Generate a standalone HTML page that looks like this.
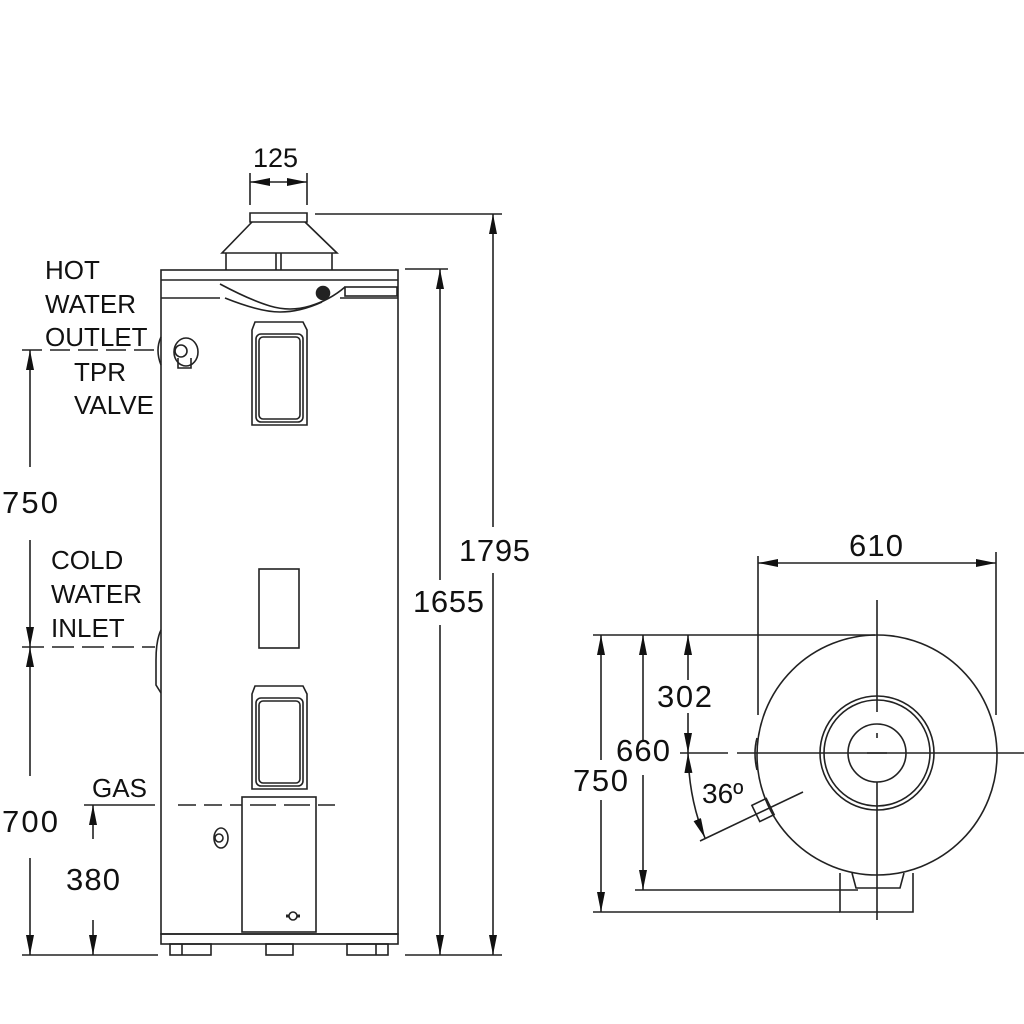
<!DOCTYPE html>
<html><head><meta charset="utf-8"><style>
html,body{margin:0;padding:0;background:#fff}
svg{display:block}
text{font-family:"Liberation Sans",Arial,sans-serif;fill:#111}
</style></head><body>
<svg width="1024" height="1024" viewBox="0 0 1024 1024" xmlns="http://www.w3.org/2000/svg">
<defs>
<marker id="a" viewBox="0 0 20 8" refX="20" refY="4" markerWidth="20" markerHeight="8" markerUnits="userSpaceOnUse" orient="auto-start-reverse">
<path d="M0,0 L20,4 L0,8 Z" fill="#111"/></marker>
</defs>
<g stroke="#222" stroke-width="1.6" fill="none">
<path d="M250,213 L307,213 L307,222 L250,222 Z"/>
<path d="M252,222 L222,253 L337,253 L305,222"/>
<line x1="226" y1="253" x2="226" y2="270"/><line x1="332" y1="253" x2="332" y2="270"/>
<line x1="276" y1="253" x2="276" y2="270"/><line x1="281" y1="253" x2="281" y2="270"/>
<rect x="161" y="270" width="237" height="664"/>
<line x1="161" y1="280" x2="398" y2="280"/>
<line x1="161" y1="298" x2="220" y2="298"/>
<path d="M220,284 Q250,300 270,306 Q290,312 310,306 Q330,300 345,287"/>
<path d="M225,298 Q260,312 280,312 Q300,312 322,302"/>
<line x1="340" y1="298" x2="398" y2="298"/>
<rect x="345" y="287" width="52" height="9"/>
<circle cx="323" cy="293" r="6.5" fill="#222"/>
<path d="M255,322 L303,322 L307,330 L307,425 L252,425 L252,330 Z"/>
<rect x="256" y="334" width="47" height="88" rx="5"/>
<rect x="259" y="337" width="41" height="82" rx="4"/>
<path d="M255,686 L303,686 L307,694 L307,789 L252,789 L252,694 Z"/>
<rect x="256" y="698" width="47" height="88" rx="5"/>
<rect x="259" y="701" width="41" height="82" rx="4"/>
<rect x="259" y="569" width="40" height="79"/>
<ellipse cx="186" cy="352" rx="12" ry="14"/>
<circle cx="181" cy="351" r="6"/>
<path d="M178,358 L178,368 L191,368 L191,358"/>
<path d="M161,337 Q155,350 161,365"/>
<path d="M161,630 Q156,640 156,660 L156,685 L161,693"/>
<rect x="242" y="797" width="74" height="135"/>
<line x1="84" y1="805" x2="155" y2="805"/>
<line x1="178" y1="805" x2="242" y2="805" stroke-dasharray="18,8"/>
<line x1="250" y1="805" x2="335" y2="805" stroke-dasharray="26,8"/>
<ellipse cx="221" cy="838" rx="7" ry="10"/><circle cx="219" cy="838" r="4"/>
<circle cx="293" cy="916" r="4"/><line x1="286" y1="916" x2="289" y2="916" stroke-width="3"/><line x1="297" y1="916" x2="300" y2="916" stroke-width="3"/>
<rect x="161" y="934" width="237" height="10"/>
<rect x="170" y="944" width="41" height="11"/><line x1="182" y1="944" x2="182" y2="955"/>
<rect x="266" y="944" width="27" height="11"/>
<rect x="347" y="944" width="41" height="11"/><line x1="376" y1="944" x2="376" y2="955"/>
<line x1="22" y1="350" x2="155" y2="350" stroke-dasharray="20,8"/>
<line x1="22" y1="647" x2="155" y2="647" stroke-dasharray="22,8"/>
<line x1="22" y1="955" x2="158" y2="955"/>
<line x1="30" y1="350" x2="30" y2="467" marker-start="url(#a)"/>
<line x1="30" y1="540" x2="30" y2="647" marker-end="url(#a)"/>
<line x1="30" y1="647" x2="30" y2="776" marker-start="url(#a)"/>
<line x1="30" y1="858" x2="30" y2="955" marker-end="url(#a)"/>
<line x1="93" y1="805" x2="93" y2="839" marker-start="url(#a)"/>
<line x1="93" y1="920" x2="93" y2="955" marker-end="url(#a)"/>
<line x1="250" y1="173" x2="250" y2="205"/><line x1="307" y1="173" x2="307" y2="205"/>
<line x1="250" y1="182" x2="307" y2="182" marker-start="url(#a)" marker-end="url(#a)"/>
<line x1="315" y1="214" x2="502" y2="214"/>
<line x1="405" y1="269" x2="448" y2="269"/>
<line x1="493" y1="214" x2="493" y2="527" marker-start="url(#a)"/>
<line x1="493" y1="573" x2="493" y2="955" marker-end="url(#a)"/>
<line x1="440" y1="269" x2="440" y2="580" marker-start="url(#a)"/>
<line x1="440" y1="625" x2="440" y2="955" marker-end="url(#a)"/>
<line x1="405" y1="955" x2="502" y2="955"/>
<circle cx="877" cy="755" r="120"/>
<circle cx="877" cy="753" r="57"/><circle cx="877" cy="753" r="53"/>
<circle cx="877" cy="753" r="29"/>
<line x1="877" y1="600" x2="877" y2="712"/>
<line x1="877" y1="733" x2="877" y2="773" stroke-dasharray="5,40"/>
<line x1="867" y1="753" x2="887" y2="753"/>
<line x1="877" y1="782" x2="877" y2="920"/>
<line x1="680" y1="753" x2="728" y2="753"/>
<line x1="737" y1="753" x2="1024" y2="753"/>
<path d="M757,738 Q753,753 757,770"/>
<line x1="758" y1="556" x2="758" y2="715"/><line x1="996" y1="552" x2="996" y2="715"/>
<line x1="758" y1="563" x2="996" y2="563" marker-start="url(#a)" marker-end="url(#a)"/>
<line x1="593" y1="635" x2="750" y2="635"/><line x1="750" y1="635" x2="875" y2="635"/>
<line x1="635" y1="890" x2="858" y2="890"/>
<line x1="593" y1="912" x2="840" y2="912"/>
<path d="M840,873 L840,912 L913,912 L913,873"/>
<path d="M852,873 L856,888 L900,888 L904,873"/>
<line x1="601" y1="635" x2="601" y2="760" marker-start="url(#a)"/>
<line x1="601" y1="800" x2="601" y2="912" marker-end="url(#a)"/>
<line x1="643" y1="635" x2="643" y2="740" marker-start="url(#a)"/>
<line x1="643" y1="775" x2="643" y2="890" marker-end="url(#a)"/>
<line x1="688" y1="635" x2="688" y2="680" marker-start="url(#a)"/>
<line x1="688" y1="713" x2="688" y2="753" marker-end="url(#a)"/>
<path d="M688,753 Q689,800 705,838" marker-start="url(#a)" marker-end="url(#a)"/>
<line x1="700" y1="841" x2="803" y2="792"/>
<g transform="rotate(-26 763 810)"><rect x="755" y="801" width="16" height="18"/></g>
</g>
<g font-size="26">
<text x="45" y="279">HOT</text>
<text x="45" y="313">WATER</text>
<text x="45" y="346">OUTLET</text>
<text x="74" y="381">TPR</text>
<text x="74" y="414">VALVE</text>
<text x="51" y="569">COLD</text>
<text x="51" y="603">WATER</text>
<text x="51" y="637">INLET</text>
<text x="92" y="797">GAS</text>
</g>
<g font-size="31">
<text x="2" y="513" textLength="56">750</text>
<text x="2" y="832" textLength="56">700</text>
<text x="66" y="890" textLength="54">380</text>
<text x="253" y="167" font-size="27">125</text>
<text x="459" y="561" textLength="71">1795</text>
<text x="413" y="612" textLength="71">1655</text>
<text x="849" y="556" textLength="54">610</text>
<text x="657" y="707" textLength="55">302</text>
<text x="616" y="761" textLength="54">660</text>
<text x="573" y="791" textLength="55">750</text>
<text x="702" y="803" font-size="28">36º</text>
</g>
</svg>
</body></html>
